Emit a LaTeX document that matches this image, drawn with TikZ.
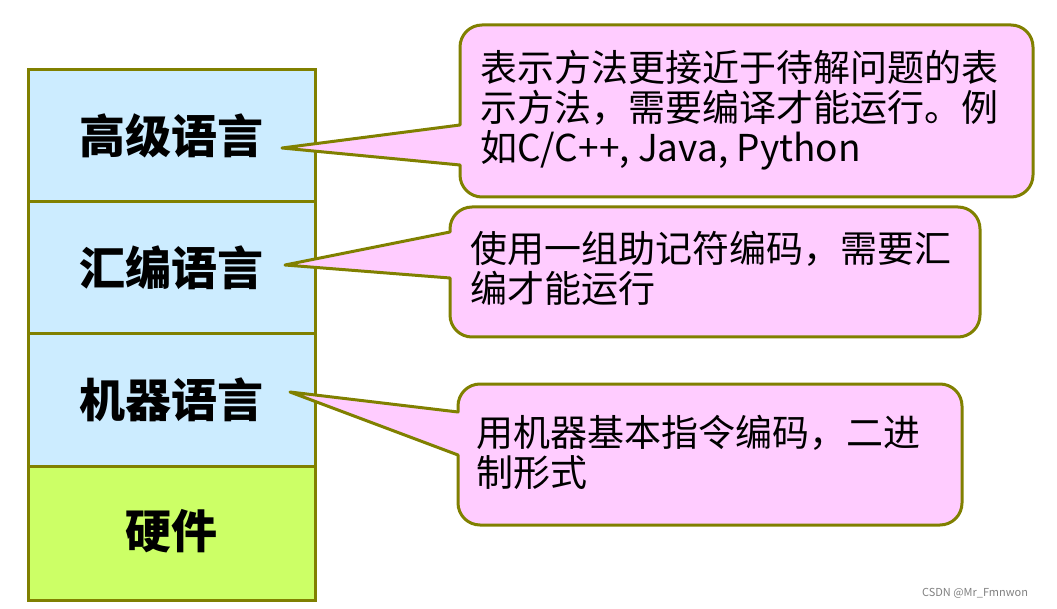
\documentclass[tikz,border=0pt]{standalone}
\usepackage{fontspec}
\setmainfont{Noto Sans CJK SC}
\definecolor{olv}{RGB}{128,128,0}
\definecolor{lblue}{RGB}{204,236,255}
\definecolor{lgreen}{RGB}{204,255,102}
\definecolor{pink}{RGB}{255,204,255}
\begin{document}
\begin{tikzpicture}[x=1pt,y=-1pt,
  layer/.style={draw=olv,line width=3pt,fill=lblue},
  lab/.style={font=\fontsize{46}{50}\selectfont\bfseries},
  call/.style={draw=olv,line width=3pt,fill=pink,line join=round},
  ctext/.style={anchor=north west,align=left,font=\fontsize{37}{40}\selectfont,inner sep=0}]
\useasboundingbox (0,0) rectangle (1057,609);
\draw[layer] (28,70) rectangle (315,202);
\draw[layer] (28,202) rectangle (315,334);
\draw[layer] (28,334) rectangle (315,466);
\draw[layer,fill=lgreen] (28,466) rectangle (315,600);
\node[lab] (hl) at (171,136) {高级语言};
\node[lab] (asm) at (171,268) {汇编语言};
\node[lab] (ml) at (171,400) {机器语言};
\node[lab] (hw) at (171,531) {硬件};
% callout 1
\coordinate (t1) at (282,148);
\draw[call] (460,125) [rounded corners=22] -- (460,25) -- (1033,25) -- (1033,197) -- (460,197) [sharp corners] -- (460,165) -- (t1) -- cycle;
\node[ctext] (c1) at (480,50) {表示方法更接近于待解问题的表\\示方法，需要编译才能运行。例\\如C/C++, Java, Python};
% callout 2
\coordinate (t2) at (285,265);
\draw[call] (450,232) [rounded corners=22] -- (450,207) -- (980,207) -- (980,337) -- (450,337) [sharp corners] -- (450,278) -- (t2) -- cycle;
\node[ctext] (c2) at (470,231) {使用一组助记符编码，需要汇\\编才能运行};
% callout 3
\coordinate (t3) at (290,392);
\draw[call] (458,412) [rounded corners=22] -- (458,384) -- (962,384) -- (962,525) -- (458,525) [sharp corners] -- (458,455) -- (t3) -- cycle;
\node[ctext] (c3) at (476,415) {用机器基本指令编码，二进\\制形式};
\node[font=\fontsize{11}{13}\selectfont,text=gray] (wm) at (975,593) {CSDN @Mr\_Fmnwon};
\end{tikzpicture}
\end{document}
